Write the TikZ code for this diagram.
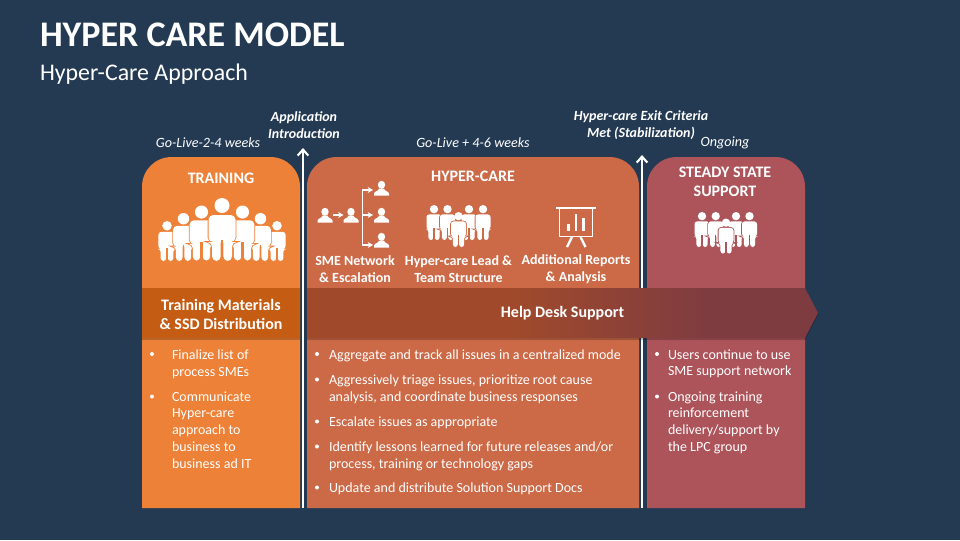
\documentclass[tikz,border=0pt]{standalone}
\usepackage{fontspec}
\setmainfont{Carlito}
\usetikzlibrary{arrows.meta}
\definecolor{bgc}{HTML}{243A53}
\definecolor{trainc}{HTML}{ED8137}
\definecolor{hyperc}{HTML}{CC6A48}
\definecolor{steadyc}{HTML}{AD545B}
\definecolor{trainband}{HTML}{C55C13}
\definecolor{helpa}{HTML}{A04A2B}
\definecolor{helpb}{HTML}{7F3C40}
\pgfdeclarehorizontalshading{helpshade}{100bp}{color(0bp)=(helpa); color(45bp)=(helpa); color(64bp)=(helpb); color(100bp)=(helpb)}
\tikzset{
  x=0.75pt,y=-0.75pt,
  txt/.style={inner sep=0pt,outer sep=0pt,text=white,align=center},
  lbl/.style={txt,font=\fontsize{10.6}{12.8}\selectfont\itshape},
  mile/.style={txt,font=\fontsize{10.5}{12.8}\selectfont\itshape\bfseries},
  head/.style={txt,font=\fontsize{12}{14.4}\selectfont\bfseries},
  capt/.style={txt,font=\fontsize{10.5}{12.8}\selectfont\bfseries},
  band/.style={txt,font=\fontsize{12}{14.4}\selectfont\bfseries},
  bul/.style={txt,align=left,anchor=north west,font=\fontsize{10.5}{12.6}\selectfont},
  dot/.style={circle,fill=white,inner sep=0pt,minimum size=3pt},
  thinarrow/.style={white,line width=0.8pt,-{Stealth[length=4pt,width=4.5pt]}},
  milearrow/.style={white,line width=1.6pt,-{Straight Barb[length=4.5pt,width=8pt]}},
}
% #1 x, #2 top y, #3 height, #4 outline colour
\newcommand{\personbody}{(-13.5,44)--(-13.5,17)--(13.5,17)--(13.5,44)--(10,44)--(10,63)--(1.3,63)--(1.3,40)--(-1.3,40)--(-1.3,63)--(-10,63)--(-10,44)--cycle}
\newcommand{\personicon}[4]{%
  \begin{scope}[shift={(#1,#2)},scale=#3/63]
    \draw[#4,line width=1.2pt,rounded corners=#3/63*3.5pt] \personbody;
    \fill[white] (0,7.5) circle[radius=7.5];
    \fill[white,rounded corners=#3/63*3.5pt] \personbody;
    \fill[#4] (-1.3,42) rectangle (1.3,63);
  \end{scope}}
% #1 x, #2 top y : small bust
\newcommand{\bust}[2]{%
  \begin{scope}[shift={(#1,#2)}]
    \fill[white] (0,3.8) ellipse[x radius=3.7,y radius=4];
    \fill[white] (-7.5,14.5)--(-7.5,12.5) .. controls (-7,10) and (-3,10.5) .. (-2.4,7.5)--(2.4,7.5) .. controls (3,10.5) and (7,10) .. (7.5,12.5)--(7.5,14.5)--cycle;
  \end{scope}}
\newcommand{\panel}[3]{%
  \fill[#3] (#1,187) .. controls (#1,170) and (#1+13,157) .. (#1+30,157) -- (#2-30,157)
     .. controls (#2-13,157) and (#2,170) .. (#2,187) -- (#2,508) -- (#1,508) -- cycle;}
\begin{document}
\begin{tikzpicture}
\useasboundingbox (0,0) rectangle (960,540);
\fill[bgc] (0,0) rectangle (960,540);

\node[txt,anchor=west,font=\fontsize{27}{32}\selectfont\bfseries] (title) at (40,35) {HYPER CARE MODEL};
\node[txt,anchor=west,font=\fontsize{17.9}{22}\selectfont] (subtitle) at (40,74.5) {Hyper-Care Approach};

% panels
\panel{142}{300}{trainc}
\panel{307}{639}{hyperc}
\panel{647}{805}{steadyc}

% milestone arrows
\coordinate (a1s) at (303,508); \coordinate (a1e) at (303,148);
\coordinate (a2s) at (642,508); \coordinate (a2e) at (642,155);
\draw[milearrow] (a1s) -- (a1e);
\draw[milearrow] (a2s) -- (a2e);

% bands
\fill[black,opacity=0.22] (142,288) rectangle (300,340);
\fill[black,opacity=0.22] (307,288) -- (805,288) -- (818,315) -- (805,340) -- (307,340) -- cycle;
\fill[trainband] (142,288) rectangle (300,338);
\shade[shading=helpshade] (307,288) -- (805,288) -- (818,313) -- (805,338) -- (307,338) -- cycle;

% top labels
\node[mile] (appintro) at (304,125) {Application\\Introduction};
\node[mile] (exitcrit) at (641,125) {Hyper-care Exit Criteria\\Met (Stabilization)};
\node[lbl] (gl1) at (208,143) {Go-Live-2-4 weeks};
\node[lbl] (gl2) at (473,143) {Go-Live + 4-6 weeks};
\node[lbl] (gl3) at (725,143) {Ongoing};

% headings
\node[head] (h1) at (221,178.5) {TRAINING};
\node[head] (h2) at (473,176) {HYPER-CARE};
\node[head] (h3) at (725,181.5) {STEADY STATE\\SUPPORT};

% training people
\foreach \px/\py/\ph in {167/221/40,277/221/40,183.5/213/48,260.5/213/48,201.5/205.5/55,242.5/205.5/55,222/198/63}
  {\personicon{\px}{\py}{\ph}{trainc}}

% SME tree
\bust{325}{208}\bust{351}{208}\bust{381.5}{181}\bust{381.5}{208}\bust{381.5}{233}
\coordinate (t0) at (333,215); \coordinate (t1) at (343.5,215);
\coordinate (tr) at (362.3,190); \coordinate (tm) at (362.3,215); \coordinate (tb) at (362.3,245);
\coordinate (e1) at (373,190); \coordinate (e2) at (373,215); \coordinate (e3) at (373,245);
\draw[thinarrow] (t0) -- (t1);
\draw[white,line width=0.8pt] (tr) -- (tb);
\draw[thinarrow] (tr) -- (e1);
\draw[thinarrow] (tm) -- (e2);
\draw[thinarrow] (tb) -- (e3);

% hyper-care team
\foreach \px in {434,447.5,469,483} {\personicon{\px}{205}{35}{hyperc}}
\personicon{458.5}{212}{35}{hyperc}

% presentation board
\fill[white] (556,206.5) rectangle (596,209.3);
\draw[white,line width=1pt] (559.5,209) -- (559.5,236.5) -- (592.5,236.5) -- (592.5,209);
\fill[white] (567,224) rectangle (569.5,231);
\fill[white] (574.7,214) rectangle (577.2,231);
\fill[white] (582.2,217.5) rectangle (584.7,231);
\draw[white,line width=1.8pt] (572,237) -- (567,247);
\draw[white,line width=1.8pt] (580.5,237) -- (585.5,247);

% steady team
\foreach \px in {702,715.7,736,749.5} {\personicon{\px}{212}{35}{steadyc}}
\personicon{726}{218.5}{35}{steadyc}

% captions
\node[capt] (c1) at (355,269) {SME Network\\\& Escalation};
\node[capt] (c2) at (458.5,269) {Hyper-care Lead \&\\Team Structure};
\node[capt] (c3) at (576,269) {Additional Reports\\\& Analysis};

% band text
\node[band] (b1) at (221,314.5) {Training Materials\\\& SSD Distribution};
\node[band] (b2) at (562.5,313.5) {Help Desk Support};

% training bullets
\node[dot] (d11) at (152,354) {};
\node[bul] (t11) at (172,349.5) {Finalize list of\\process SMEs};
\node[dot] (d12) at (152,396.5) {};
\node[bul] (t12) at (172,391.5) {Communicate\\Hyper-care\\approach to\\business to\\business ad IT};

% hyper bullets
\node[dot] (d21) at (317,354) {};
\node[bul] (t21) at (329,349.5) {Aggregate and track all issues in a centralized mode};
\node[dot] (d22) at (317,379.5) {};
\node[bul] (t22) at (329,374.5) {Aggressively triage issues, prioritize root cause\\analysis, and coordinate business responses};
\node[dot] (d23) at (317,421.5) {};
\node[bul] (t23) at (329,416.5) {Escalate issues as appropriate};
\node[dot] (d24) at (317,446.5) {};
\node[bul] (t24) at (329,441.5) {Identify lessons learned for future releases and/or\\process, training or technology gaps};
\node[dot] (d25) at (317,487.5) {};
\node[bul] (t25) at (329,482.5) {Update and distribute Solution Support Docs};

% steady bullets
\node[dot] (d31) at (657,354) {};
\node[bul] (t31) at (668,349.5) {Users continue to use\\SME support network};
\node[dot] (d32) at (657,396.5) {};
\node[bul] (t32) at (668,391.5) {Ongoing training\\reinforcement\\delivery/support by\\the LPC group};
\end{tikzpicture}
\end{document}
